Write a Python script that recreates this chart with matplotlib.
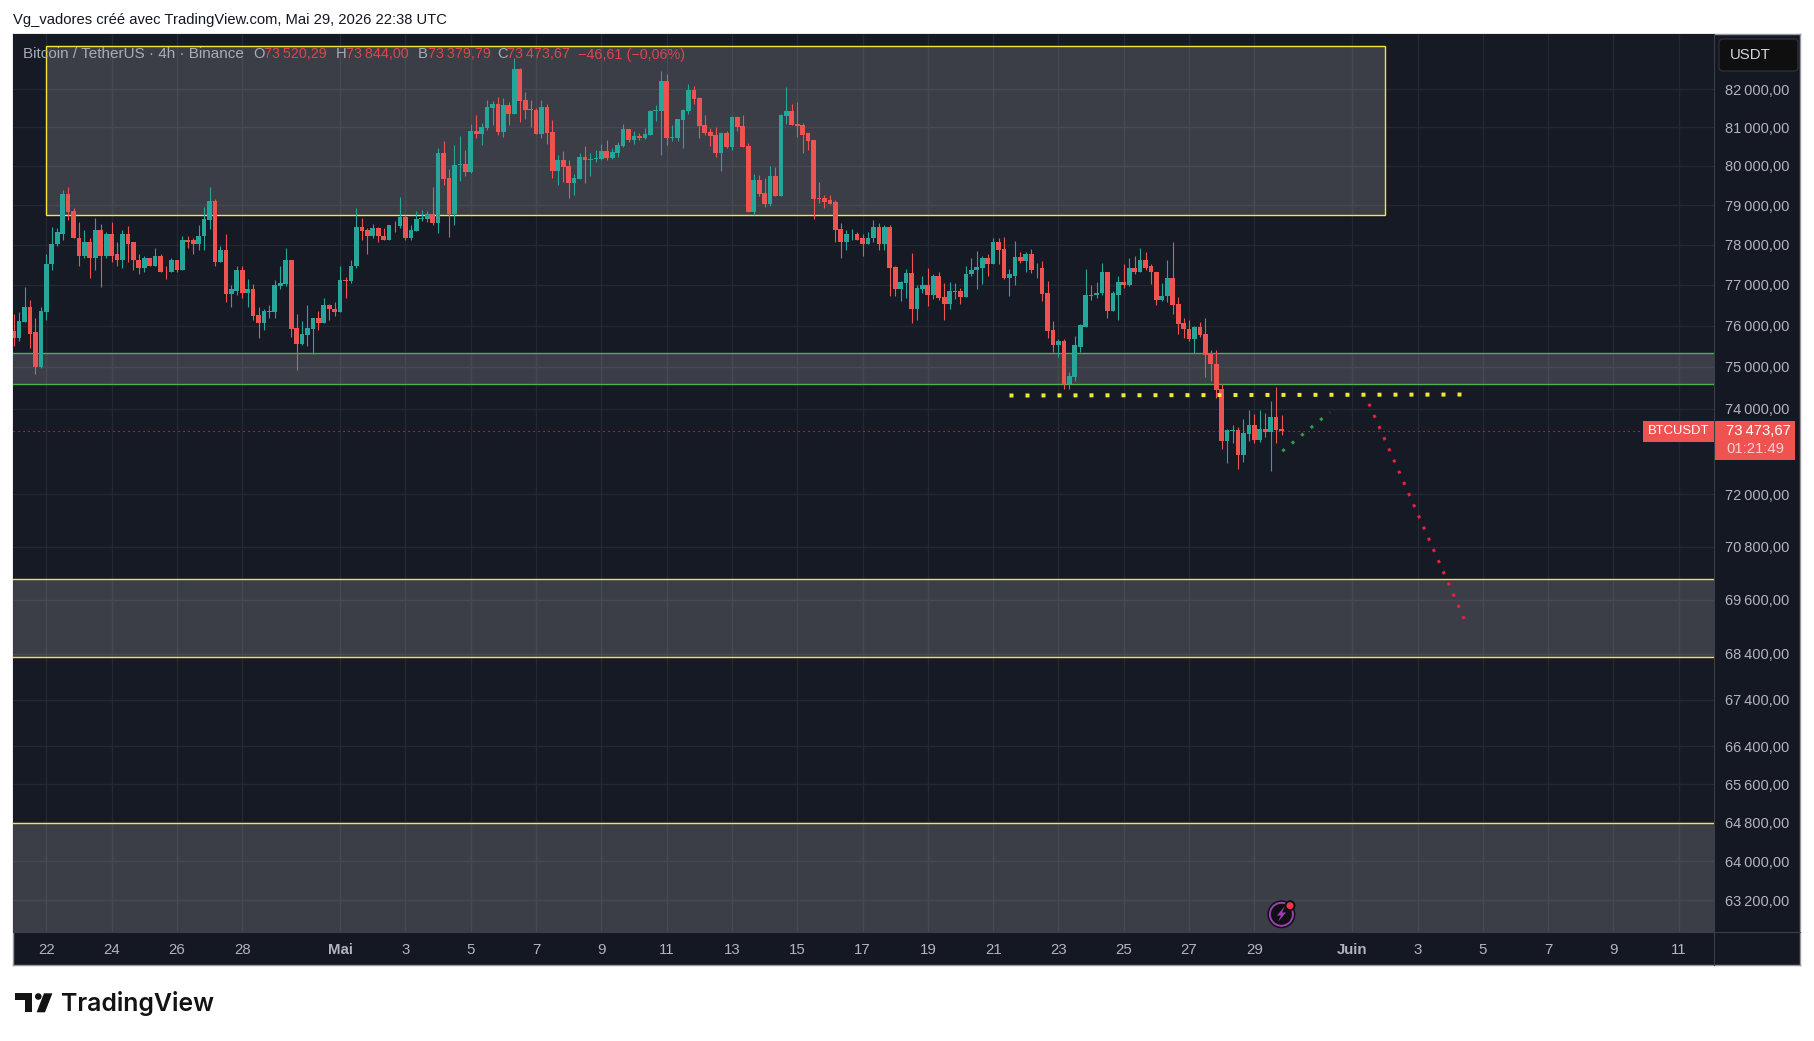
import matplotlib
matplotlib.use('Agg')
import matplotlib.pyplot as plt
import matplotlib.dates as mdates
import pandas as pd
from matplotlib.lines import Line2D
from matplotlib.patches import Rectangle, FancyBboxPatch, Polygon, Circle
from matplotlib.transforms import Affine2D

W, H = 1814, 1041
FONT = ['Liberation Sans Narrow', 'Liberation Sans', 'DejaVu Sans']
plt.rcParams['font.family'] = FONT

# 4h candles, first one at 2026-04-21 00:00 UTC
first_candle = '2026-04-21 00:00'
opens = [75860,75690,76080,76470,75840,75010,76330,77510,78010,78280,
         79270,78850,78180,77730,78060,77680,78380,77710,78280,77760,
         77630,78260,78060,77630,77430,77680,77480,77710,77330,77310,
         77630,77380,78110,78110,78030,78210,78630,79100,77580,77860,
         76790,76860,77380,76810,76890,76250,76060,76330,76330,76980,
         77030,77610,75935,75545,75765,75910,76180,76060,76500,76420,
         76330,77130,77100,77460,78450,78380,78210,78410,78230,78130,
         78510,78480,78700,78180,78350,78650,78650,78780,78555,80340,
         79700,78780,80030,80060,79855,80910,80830,80980,81510,81610,
         80880,81590,81340,82540,81720,81480,81460,80830,81530,80880,
         79880,80160,80010,79570,79675,80240,80140,80190,80190,80390,
         80210,80340,80520,80960,80680,80780,80730,80810,81420,81430,
         82220,80730,80730,81200,81430,81980,81770,81060,80880,80800,
         80320,80860,80500,81270,81040,80520,78820,79650,79320,79040,
         79750,79240,81300,81430,81090,81060,80850,80660,79180,79180,
         79120,79090,78390,78060,78260,78280,78160,78010,78160,78440,
         78030,78440,77450,76910,77060,77300,76400,76910,77010,76760,
         77230,76710,76520,76820,76840,76710,77260,77360,77430,77680,
         77530,78070,77900,77180,77230,77700,77600,77780,77410,77430,
         76810,75890,75520,75640,74600,74770,75490,75980,76760,76750,
         76810,77330,76350,76760,77080,77010,77410,77330,77630,77460,
         77330,76620,76720,77180,76520,76060,75930,75670,75980,75790,
         75330,75080,74460,73250,73480,73500,72910,73410,73620,73270,
         73520,73450,73810,73520]
highs = [76280,76330,76940,76620,76200,76450,77760,78450,78410,79390,
         79470,78930,78580,78360,78180,78680,78530,78330,78580,78080,
         78380,78480,78080,77780,77730,77680,77910,77760,77460,77660,
         77630,78210,78230,78160,78500,78950,79470,79150,77980,78280,
         77010,77460,77460,77160,77030,76450,76400,76500,77130,77460,
         77908,77610,76280,76110,76500,76200,76350,76690,76520,76570,
         77460,77210,77610,78925,78680,78430,78530,78450,78410,78510,
         78600,79200,78750,78500,78850,78880,78850,79470,80470,80650,
         79930,80550,80780,80420,81090,81320,81120,81710,81690,81790,
         81770,81660,82830,82560,81930,81720,81510,81720,81610,81190,
         80290,80390,80160,79800,80340,80520,80320,80420,80570,80680,
         80470,80620,81090,80960,80910,80860,80980,81450,81590,82480,
         82400,81060,81220,81480,82140,82090,81800,81330,80980,81010,
         80880,80910,81300,81300,81320,80600,79800,79780,79700,80010,
         79960,81350,82060,81610,81660,81110,80850,80660,79590,79250,
         79250,79140,78540,78360,78390,78330,78260,78330,78620,78560,
         78490,78510,77480,77110,77400,77800,77010,77230,77430,77280,
         77330,77060,77080,77060,76930,77480,77680,77850,77730,77780,
         78170,78170,78200,77400,78100,77830,77830,77900,77550,77600,
         77110,76110,75670,75670,74890,75740,76030,77400,77010,77080,
         77550,77330,76840,77230,77510,77660,77710,77910,77830,77510,
         77330,77060,77630,78080,76710,76200,76130,75990,76080,76180,
         75420,75420,74600,73510,73620,73570,73760,73960,73880,73960,
         73910,74190,74530,73844]
lows = [75500,75620,76080,75450,74840,74980,76150,77380,77960,78130,
        78630,78160,77460,77680,77180,77380,76960,77660,77560,77460,
        77410,77580,77380,77280,77330,77460,77480,77310,77160,77310,
        77330,77380,77930,77780,77860,77860,78400,77480,77560,76570,
        76470,76760,76690,76450,76150,75690,75890,76200,76200,76890,
        76980,75715,74935,75520,75495,75325,75890,76060,76130,76230,
        76330,76670,77060,77430,78130,77760,78180,78060,78110,78120,
        78330,78430,78130,78110,78350,78600,78580,78500,78300,79520,
        78200,78505,79620,79750,79830,80730,80550,80930,81060,80800,
        80750,81060,81340,81140,81220,81010,80830,80730,80570,79700,
        79520,79600,79185,79260,79675,79570,79750,80110,80160,80140,
        80190,80240,80500,80620,80570,80680,80700,80810,81170,80290,
        80550,80640,80630,80470,81350,81610,80730,80800,80520,80220,
        79860,80450,80420,80910,80500,78820,78760,79240,78940,78990,
        79240,79240,81090,81060,80750,80320,80400,78660,79060,78920,
        79020,78080,77660,77860,78130,78130,77730,78010,78060,77860,
        77880,76740,76720,76600,76690,76060,76150,76810,76490,76660,
        76640,76150,76420,76660,76520,76710,77230,76910,77030,77230,
        77530,77530,77160,76740,77010,77550,77330,77300,77180,76600,
        75690,75370,75230,74470,74470,74670,75370,75960,76630,76670,
        76750,76200,76350,76130,76930,76980,77280,77310,77360,77030,
        76500,76600,76590,76280,75790,75690,75620,75340,75720,74770,
        74670,74250,73060,72730,73200,72590,72750,73250,73200,73220,
        73340,72530,73200,73380]
closes = [75690,76110,76470,75810,75010,76350,77530,78030,78310,79270,
          78830,78160,77730,78060,77680,78380,77710,78280,77730,77630,
          78260,78030,77610,77430,77680,77480,77710,77310,77310,77630,
          77380,78110,78080,78030,78230,78650,79100,77580,77860,76790,
          76890,77380,76810,76890,76230,76060,76350,76360,77010,77060,
          77610,75910,75545,75790,75935,76180,76060,76500,76400,76330,
          77130,77110,77480,78450,78350,78210,78410,78210,78130,78500,
          78490,78700,78180,78380,78650,78680,78780,78560,80340,79675,
          78780,80030,80060,79855,80910,80830,81010,81530,81610,80880,
          81590,81340,82540,81690,81460,81460,80830,81530,80860,79880,
          80160,79980,79570,79700,80240,80140,80190,80210,80390,80210,
          80370,80550,80960,80680,80780,80730,80830,81420,81450,82220,
          80730,80750,81220,81460,81980,81750,81040,80850,80780,80320,
          80860,80500,81270,81010,80500,78820,79650,79290,79040,79750,
          79240,81320,81430,81060,81040,80800,80630,79150,79150,79090,
          79040,78360,78080,78260,78280,78130,78010,78180,78440,78030,
          78440,77430,76910,77080,77300,76400,76930,77010,76760,77230,
          76680,76520,76840,76840,76710,77280,77380,77450,77680,77530,
          78070,77880,77180,77260,77700,77600,77780,77380,77430,76790,
          75860,75520,75640,74600,74790,75520,76010,76760,76740,76810,
          77330,76350,76810,77080,77010,77410,77330,77630,77430,77310,
          76640,76730,77180,76500,76030,75910,75670,75980,75770,75300,
          75060,74440,73250,73500,73500,72910,73430,73620,73270,73520,
          73450,73810,73500,73474]

price_ticks = [82000,81000,80000,79000,78000,77000,76000,75000,74000,72000,
               70800,69600,68400,67400,66400,65600,64800,64000,63200]
date_ticks = ['2026-04-22','2026-04-24','2026-04-26','2026-04-28','2026-05-01',
              '2026-05-03','2026-05-05','2026-05-07','2026-05-09','2026-05-11',
              '2026-05-13','2026-05-15','2026-05-17','2026-05-19','2026-05-21',
              '2026-05-23','2026-05-25','2026-05-27','2026-05-29','2026-06-01',
              '2026-06-03','2026-06-05','2026-06-07','2026-06-09','2026-06-11']
date_labels = ['22','24','26','28','Mai','3','5','7','9','11','13','15','17',
               '19','21','23','25','27','29','Juin','3','5','7','9','11']

last_price = 73473.67
box_dates = ['2026-04-22','2026-06-02']
box_prices = [78749,83140]
green_zone = [74590,75335]
yellow_zones = [(68340,70076),(62000,64790)]
support_dates = ['2026-05-21 12:00','2026-06-04 11:00']
support_prices = [74316,74340]
up_dates = ['2026-05-29 20:34','2026-05-31 07:30']
up_prices = [73000,73920]
down_dates = ['2026-06-01 12:14','2026-06-04 11:31']
down_prices = [74120,69090]

BG = '#161a25'
AXIS_BG = '#141823'
GRID = '#242833'
SEP = '#3a3e49'
ZONE = '#b4b6b8'
YELLOW = '#f5e63a'
GREEN = '#4caf50'
UP = '#26a69a'
DOWN = '#ef5350'
TEXT = '#b2b5be'


def day_num(s):
    return mdates.date2num(pd.to_datetime(s))


def px_text(x, y, s, **kw):
    # position in image pixels, origin top left
    return fig.text(x / W, 1 - y / H, s, **kw)


fig = plt.figure(figsize=(W / 100, H / 100), dpi=100, facecolor='white')
to_px = Affine2D().scale(1, -1).translate(0, H)

# frame of the whole widget
frame = fig.add_axes([13 / W, 1 - 965 / H, (1800 - 13) / W, (965 - 34) / H])
frame.set_facecolor(AXIS_BG)
frame.set_xticks([])
frame.set_yticks([])
for s in frame.spines.values():
    s.set_color('#9598a1')
    s.set_linewidth(1.0)

ax = fig.add_axes([13 / W, 1 - 932 / H, (1714 - 13) / W, (932 - 34) / H])
ax.set_facecolor(BG)
ax.set_yscale('log')
zero = day_num('2026-04-22')
ax.set_xlim(zero + (13 - 46.3) / 32.65, zero + (1714 - 46.3) / 32.65)
ax.set_ylim(62559, 83461)

ax.set_yticks(price_ticks)
ax.set_yticks([], minor=True)
ax.set_yticklabels(['{}\u2009{:03d},00'.format(p // 1000, p % 1000) for p in price_ticks])
ax.set_xticks([day_num(d) for d in date_ticks])
ax.set_xticklabels(date_labels)
ax.yaxis.tick_right()
ax.tick_params(axis='y', length=0, pad=8, labelsize=10.5, labelcolor=TEXT)
ax.tick_params(axis='x', length=0, pad=8, labelsize=10.8, labelcolor=TEXT)
for lab in ax.get_xticklabels():
    if lab.get_text() in ('Mai', 'Juin'):
        lab.set_fontweight('bold')
ax.grid(True, color=GRID, linewidth=1.0)
ax.set_axisbelow(True)
for s in ax.spines.values():
    s.set_visible(False)

# zones
box_x = [day_num(d) for d in box_dates]
ax.add_patch(Rectangle((box_x[0], box_prices[0]), box_x[1] - box_x[0], box_prices[1] - box_prices[0],
                       facecolor=ZONE, alpha=0.235, edgecolor='none', zorder=2))
ax.add_patch(Rectangle((box_x[0], box_prices[0]), box_x[1] - box_x[0], box_prices[1] - box_prices[0],
                       facecolor='none', edgecolor=YELLOW, linewidth=1.0, zorder=2.5))
ax.axhspan(green_zone[0], green_zone[1], color=ZONE, alpha=0.235, linewidth=0, zorder=2)
for p in green_zone:
    ax.axhline(p, color=GREEN, linewidth=1.0, zorder=2.5)
for low, high in yellow_zones:
    ax.axhspan(low, high, color=ZONE, alpha=0.235, linewidth=0, zorder=2)
    for p in (low, high):
        ax.axhline(p, color=YELLOW, linewidth=1.0, zorder=2.5)

# candles
times = mdates.date2num(pd.date_range(first_candle, periods=len(opens), freq='4h'))
colors = [UP if c >= o else DOWN for o, c in zip(opens, closes)]
ax.vlines(times, lows, highs, colors=colors, linewidth=0.8, zorder=3)
bottoms = [min(o, c) for o, c in zip(opens, closes)]
heights = [max(abs(c - o), 12) for o, c in zip(opens, closes)]
ax.bar(times, heights, width=4.7 / 32.65, bottom=bottoms, color=colors, linewidth=0, zorder=3.5)

# drawn levels and projections
ax.plot([day_num(d) for d in support_dates], support_prices, color='#f7e52e', linewidth=2.88,
        linestyle=(0, (1, 3)), dash_capstyle='butt', zorder=4)
ax.plot([day_num(d) for d in up_dates], up_prices, color='#2e9e3e', linewidth=2.2,
        linestyle=(0, (1, 3)), dash_capstyle='butt', zorder=4)
ax.plot([day_num(d) for d in down_dates], down_prices, color='#e8213f', linewidth=2.2,
        linestyle=(0, (1, 3)), dash_capstyle='butt', zorder=4)
ax.plot([ax.get_xlim()[0], zero + (1643 - 46.3) / 32.65], [last_price, last_price], color='#f23645',
        linewidth=0.8, linestyle=(0, (1, 3.5)), zorder=2.8)

# decorations placed in image pixels
deco = dict(transform=to_px, clip_on=False)
fig.add_artist(Line2D([1714, 1714], [34, 965], color=SEP, linewidth=0.8, **deco))
fig.add_artist(Line2D([13, 1800], [932, 932], color=SEP, linewidth=0.8, **deco))
fig.add_artist(FancyBboxPatch((1722, 42), 73, 26, boxstyle='round,pad=3,rounding_size=4',
                              facecolor='#0f0f0f', edgecolor='#2a2e39', linewidth=1, **deco))
fig.add_artist(Rectangle((1643, 421), 71, 21, facecolor=DOWN, edgecolor='none', **deco))
fig.add_artist(Rectangle((1715, 421), 80, 39, facecolor=DOWN, edgecolor='none', **deco))

# event badge
fig.add_artist(Circle((1281.4, 914.3), 14, facecolor='#101014', edgecolor='none', **deco))
fig.add_artist(Circle((1281.4, 914.3), 11.5, facecolor='none', edgecolor='#9c3fb5', linewidth=1.4, **deco))
fig.add_artist(Polygon([(1285, 906), (1277, 915.5), (1281, 915.5), (1278, 922), (1286, 912.5),
                        (1282, 912.5)], closed=True, facecolor='#9c3fb5', edgecolor='none', **deco))
fig.add_artist(Circle((1290, 905.7), 5.5, facecolor='#101014', edgecolor='none', **deco))
fig.add_artist(Circle((1290, 905.7), 3.5, facecolor='#f23645', edgecolor='none', **deco))

# TradingView mark
fig.add_artist(Polygon([(15, 993.3), (31.7, 993.3), (31.7, 1012.3), (24.7, 1012.3), (24.7, 999.8), (15, 999.8)],
                       closed=True, facecolor='#131313', edgecolor='none', **deco))
fig.add_artist(Circle((38.3, 996.5), 3.3, facecolor='#131313', edgecolor='none', **deco))
fig.add_artist(Polygon([(44, 993.3), (52.4, 993.3), (45, 1012.3), (36.6, 1012.3)],
                       closed=True, facecolor='#131313', edgecolor='none', **deco))

# text
px_text(13, 20, 'Vg_vadores créé avec TradingView.com, Mai 29, 2026 22:38 UTC', fontsize=10.63,
        color='#131722', va='center')
px_text(23, 54.5, 'Bitcoin / TetherUS · 4h · Binance', color='#a9acb5', fontsize=11, va='center', zorder=10)
for x, s in [(253, 'O'), (336, 'H'), (418, 'B'), (497, 'C')]:
    px_text(x, 54.5, s, color='#a9acb5', fontsize=10.6, va='center', zorder=10)
for x, s in [(264, '73\u2009520,29'), (346, '73\u2009844,00'), (428, '73\u2009379,79'), (507, '73\u2009473,67'),
             (578, '\u221246,61 (\u22120,06%)')]:
    px_text(x, 54.5, s, color='#d9474a', fontsize=10.4, va='center', zorder=10)
px_text(1730, 55, 'USDT', fontsize=10.8, color='#d1d4dc', va='center', zorder=10)
px_text(1648, 431.5, 'BTCUSDT', fontsize=9.4, color='white', va='center', zorder=10)
px_text(1726, 431, '73\u2009473,67', fontsize=10.7, color='white', va='center', zorder=10)
px_text(1726, 449, '01:21:49', fontsize=10.7, color='#ffcdd2', va='center', zorder=10)
px_text(61, 1004, 'TradingView', fontsize=17.9, family=['Inter', 'DejaVu Sans'], fontweight='semibold',
        color='#131313', va='center', zorder=10)

fig.savefig('out.png', dpi=100)
